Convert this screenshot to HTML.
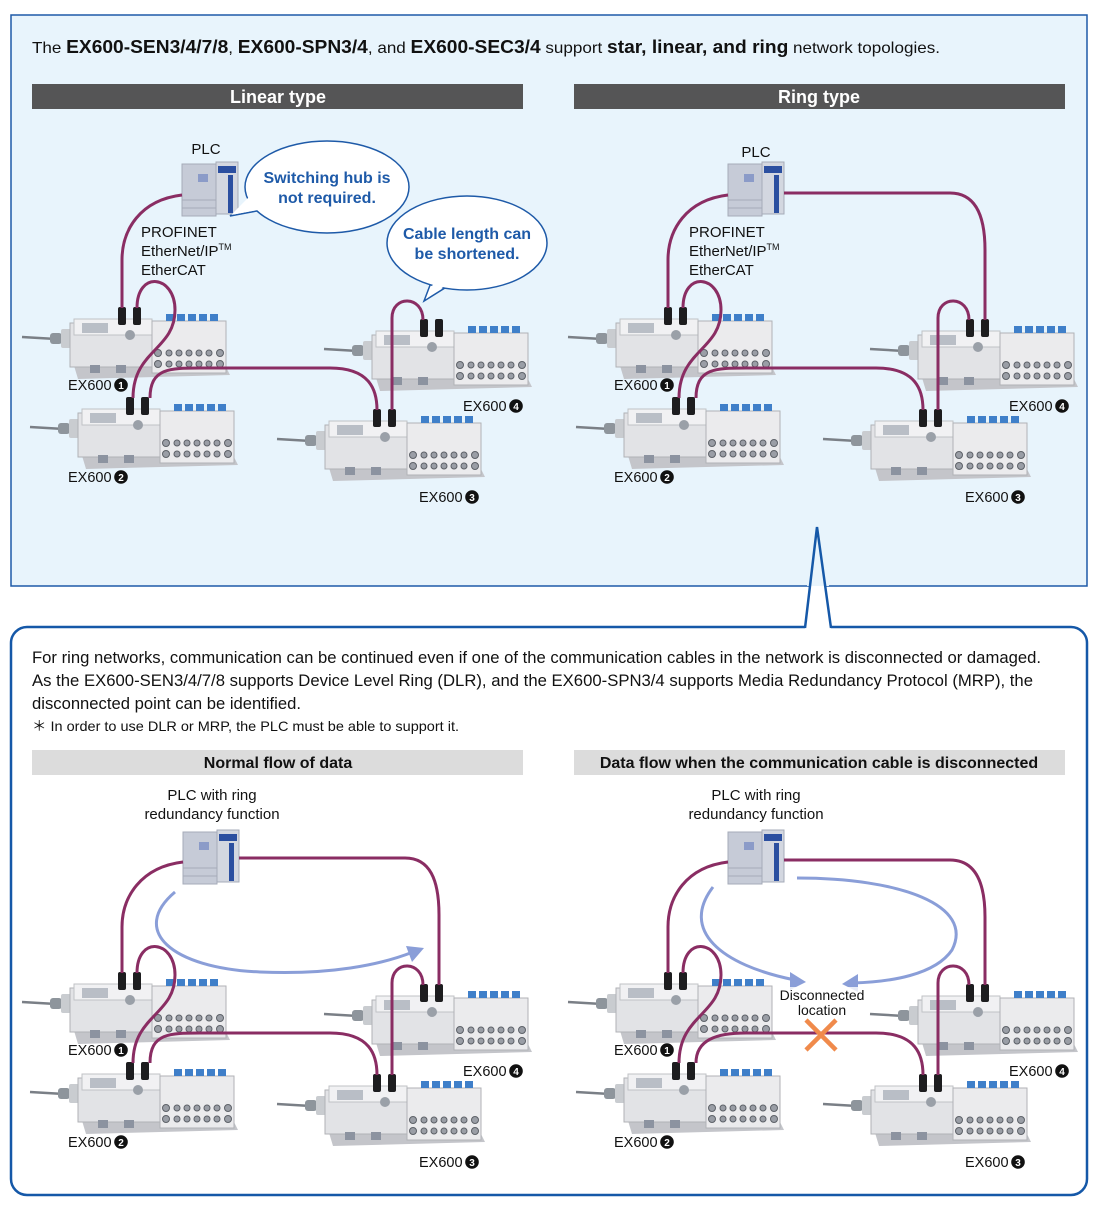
<!DOCTYPE html>
<html><head><meta charset="utf-8"><style>
html,body{margin:0;padding:0;background:#fff;}
svg{display:block;font-family:"Liberation Sans",Arial,sans-serif;}
</style></head><body>
<svg width="1100" height="1219" viewBox="0 0 1100 1219" xmlns="http://www.w3.org/2000/svg">
<defs>
<g id="dev">
  <path d="M-48,22 L-14,24" stroke="#7a7f86" stroke-width="2.5" fill="none"/>
  <rect x="-20" y="18" width="12" height="11" rx="3" fill="#8e959c"/>
  <rect x="-9" y="14" width="10" height="19" rx="2" fill="#c9ccd0"/>
  <polygon points="2,44 152,44 160,60 8,64" fill="#c4c5ca"/>
  <rect x="0" y="8" width="82" height="44" fill="#e2e3e6" stroke="#b0b2b6"/>
  <rect x="4" y="4" width="78" height="16" fill="#f1f1f3" stroke="#c0c2c6"/>
  <rect x="12" y="8" width="26" height="10" fill="#b9bec6"/>
  <rect x="20" y="50" width="10" height="8" fill="#8c93a0"/>
  <rect x="46" y="50" width="10" height="8" fill="#8c93a0"/>
  <rect x="82" y="6" width="74" height="52" fill="#ebebed" stroke="#b0b2b6"/>
  <g fill="#3f7fc9"><rect x="96" y="-1" width="8" height="7"/><rect x="107" y="-1" width="8" height="7"/><rect x="118" y="-1" width="8" height="7"/><rect x="129" y="-1" width="8" height="7"/><rect x="140" y="-1" width="8" height="7"/></g>
  <g fill="#9a9ea6" stroke="#5d6168" stroke-width="1">
   <circle cx="88" cy="38" r="3.5"/><circle cx="99" cy="38" r="3"/><circle cx="109" cy="38" r="3"/><circle cx="119" cy="38" r="3"/><circle cx="129" cy="38" r="3"/><circle cx="139" cy="38" r="3"/><circle cx="150" cy="38" r="3.5"/>
   <circle cx="88" cy="49" r="3.5"/><circle cx="99" cy="49" r="3"/><circle cx="109" cy="49" r="3"/><circle cx="119" cy="49" r="3"/><circle cx="129" cy="49" r="3"/><circle cx="139" cy="49" r="3"/><circle cx="150" cy="49" r="3.5"/>
  </g>
  <rect x="48" y="-8" width="8" height="18" rx="2" fill="#1d1d1f"/>
  <rect x="63" y="-8" width="8" height="18" rx="2" fill="#1d1d1f"/>
  <circle cx="60" cy="20" r="5" fill="#9aa0a8"/>
</g>
<g id="plc">
  <rect x="0" y="2" width="34" height="52" fill="#c6cbd7" stroke="#a6abb8"/>
  <rect x="34" y="0" width="22" height="52" fill="#d3d7e0" stroke="#a6abb8"/>
  <rect x="36" y="4" width="18" height="7" fill="#2b4fa0"/>
  <rect x="46" y="13" width="5" height="38" fill="#2b4fa0"/>
  <rect x="16" y="12" width="10" height="8" fill="#8b9bc8"/>
  <line x1="0" y1="38" x2="34" y2="38" stroke="#a6abb8"/>
  <line x1="0" y1="46" x2="34" y2="46" stroke="#a6abb8"/>
</g>
</defs>

<!-- top panel -->
<rect x="11" y="15" width="1076" height="571" fill="#e8f4fc" stroke="#1e5aa8" stroke-width="1.5"/>
<text x="32" y="53" font-size="16" fill="#111" textLength="908" lengthAdjust="spacingAndGlyphs">The <tspan font-weight="bold" font-size="18">EX600-SEN3/4/7/8</tspan>, <tspan font-weight="bold" font-size="18">EX600-SPN3/4</tspan>, and <tspan font-weight="bold" font-size="18">EX600-SEC3/4</tspan> support <tspan font-weight="bold" font-size="18">star, linear, and ring</tspan> network topologies.</text>
<rect x="32" y="84" width="491" height="25" fill="#555556"/>
<rect x="574" y="84" width="491" height="25" fill="#555556"/>
<text x="278" y="103" font-size="18" font-weight="bold" fill="#fff" text-anchor="middle">Linear type</text>
<text x="819" y="103" font-size="18" font-weight="bold" fill="#fff" text-anchor="middle">Ring type</text>

<!-- bottom panel -->
<rect x="11" y="627" width="1076" height="568" rx="16" fill="#fff" stroke="#1558a8" stroke-width="2.5"/>
<polygon points="805,629 817,527 831,629" fill="#fff"/>
<polygon points="807,586 817,527 829,586" fill="#e8f4fc"/>
<polyline points="805,628 817,527 831,628" fill="none" stroke="#1558a8" stroke-width="2.5"/>

<text x="32" y="663" font-size="16.6" fill="#111" textLength="1009" lengthAdjust="spacingAndGlyphs">For ring networks, communication can be continued even if one of the communication cables in the network is disconnected or damaged.</text>
<text x="32" y="686" font-size="16.6" fill="#111" textLength="1001" lengthAdjust="spacingAndGlyphs">As the EX600-SEN3/4/7/8 supports Device Level Ring (DLR), and the EX600-SPN3/4 supports Media Redundancy Protocol (MRP), the</text>
<text x="32" y="709" font-size="16.6" fill="#111" textLength="269" lengthAdjust="spacingAndGlyphs">disconnected point can be identified.</text>
<text x="32" y="731" font-size="14" fill="#111" textLength="427" lengthAdjust="spacingAndGlyphs">＊ In order to use DLR or MRP, the PLC must be able to support it.</text>
<rect x="32" y="750" width="491" height="25" fill="#dcdcdc"/>
<rect x="574" y="750" width="491" height="25" fill="#dcdcdc"/>
<text x="278" y="768" font-size="16" font-weight="bold" fill="#111" text-anchor="middle">Normal flow of data</text>
<text x="819" y="768" font-size="16" font-weight="bold" fill="#111" text-anchor="middle">Data flow when the communication cable is disconnected</text>

<!-- ====== LINEAR ====== -->
<text x="206" y="154" font-size="15" text-anchor="middle" fill="#111">PLC</text>
<use href="#plc" x="182" y="162"/>
<text font-size="15" fill="#111"><tspan x="141" y="237">PROFINET</tspan><tspan x="141" y="256">EtherNet/IP<tspan font-size="9" dy="-6">TM</tspan></tspan><tspan x="141" y="275">EtherCAT</tspan></text>
<use href="#dev" x="70" y="315"/>
<use href="#dev" x="78" y="405"/>
<use href="#dev" x="325" y="417"/>
<use href="#dev" x="372" y="327"/>
<g fill="none" stroke="#8a2d63" stroke-width="3">
 <path d="M182,195 C140,200 122,230 122,260 L122,308"/>
 <path d="M137,308 C137,270 175,275 175,310 C175,350 133,350 133,398"/>
 <path d="M150,398 C150,368 170,368 200,368 L330,368 C370,368 377,390 377,410"/>
 <path d="M392,410 L392,318 C392,295 423,295 423,320"/>
</g>
<!-- bubbles -->
<path d="M262,210 L230,216 L252,200 Z" fill="#fff" stroke="#1e5aa8" stroke-width="1.5"/>
<ellipse cx="327" cy="187" rx="82" ry="46" fill="#fff" stroke="#1e5aa8" stroke-width="1.5"/>
<path d="M258,210 L231,215 L250,196" fill="#fff" stroke="none"/>
<text x="327" y="183" font-size="16" font-weight="bold" fill="#1e5aa8" text-anchor="middle">Switching hub is</text>
<text x="327" y="203" font-size="16" font-weight="bold" fill="#1e5aa8" text-anchor="middle">not required.</text>
<path d="M432,280 L424,301 L448,286 Z" fill="#fff" stroke="#1e5aa8" stroke-width="1.5"/>
<ellipse cx="467" cy="243" rx="80" ry="47" fill="#fff" stroke="#1e5aa8" stroke-width="1.5"/>
<path d="M434,282 L426,299 L446,285 Z" fill="#fff"/>
<text x="467" y="239" font-size="16" font-weight="bold" fill="#1e5aa8" text-anchor="middle">Cable length can</text>
<text x="467" y="259" font-size="16" font-weight="bold" fill="#1e5aa8" text-anchor="middle">be shortened.</text>

<!-- ====== RING ====== -->
<text x="756" y="157" font-size="15" text-anchor="middle" fill="#111">PLC</text>
<use href="#plc" x="728" y="162"/>
<text font-size="15" fill="#111"><tspan x="689" y="237">PROFINET</tspan><tspan x="689" y="256">EtherNet/IP<tspan font-size="9" dy="-6">TM</tspan></tspan><tspan x="689" y="275">EtherCAT</tspan></text>
<use href="#dev" x="616" y="315"/>
<use href="#dev" x="624" y="405"/>
<use href="#dev" x="871" y="417"/>
<use href="#dev" x="918" y="327"/>
<g fill="none" stroke="#8a2d63" stroke-width="3">
 <path d="M728,195 C686,200 668,230 668,260 L668,308"/>
 <path d="M683,308 C683,270 721,275 721,310 C721,350 679,350 679,398"/>
 <path d="M696,398 C696,368 716,368 746,368 L876,368 C916,368 923,390 923,410"/>
 <path d="M938,410 L938,318 C938,295 969,295 969,320"/>
 <path d="M784,193 L950,193 C975,193 985,215 985,250 L985,320"/>
</g>

<!-- ====== NORMAL FLOW ====== -->
<text x="212" y="800" font-size="15" text-anchor="middle" fill="#111">PLC with ring</text>
<text x="212" y="819" font-size="15" text-anchor="middle" fill="#111">redundancy function</text>
<use href="#plc" x="183" y="830"/>
<use href="#dev" x="70" y="980"/>
<use href="#dev" x="78" y="1070"/>
<use href="#dev" x="325" y="1082"/>
<use href="#dev" x="372" y="992"/>
<g fill="none" stroke="#8a2d63" stroke-width="3">
 <path d="M183,862 C141,867 122,897 122,927 L122,973"/>
 <path d="M137,973 C137,935 175,940 175,975 C175,1015 133,1015 133,1063"/>
 <path d="M150,1063 C150,1033 170,1033 200,1033 L330,1033 C370,1033 377,1055 377,1075"/>
 <path d="M392,1075 L392,983 C392,960 423,960 423,985"/>
 <path d="M239,858 L405,858 C430,858 439,880 439,915 L439,985"/>
</g>
<path d="M175,892 C130,930 170,968 260,972 C330,975 380,965 413,952" fill="none" stroke="#8a9ed8" stroke-width="3"/>
<polygon points="424,948 406,946 412,962" fill="#8a9ed8"/>

<!-- ====== DISCONNECTED ====== -->
<text x="756" y="800" font-size="15" text-anchor="middle" fill="#111">PLC with ring</text>
<text x="756" y="819" font-size="15" text-anchor="middle" fill="#111">redundancy function</text>
<use href="#plc" x="728" y="830"/>
<use href="#dev" x="616" y="980"/>
<use href="#dev" x="624" y="1070"/>
<use href="#dev" x="871" y="1082"/>
<use href="#dev" x="918" y="992"/>
<g fill="none" stroke="#8a2d63" stroke-width="3">
 <path d="M728,862 C686,867 668,897 668,927 L668,973"/>
 <path d="M683,973 C683,935 721,940 721,975 C721,1015 679,1015 679,1063"/>
 <path d="M696,1063 C696,1040 716,1033 746,1033 L876,1033 C916,1033 923,1055 923,1075"/>
 <path d="M938,1075 L938,983 C938,960 969,960 969,985"/>
 <path d="M784,860 L950,860 C975,860 985,882 985,917 L985,985"/>
</g>
<path d="M713,887 C680,930 720,965 795,980" fill="none" stroke="#8a9ed8" stroke-width="3"/>
<polygon points="806,982 790,972 790,990" fill="#8a9ed8"/>
<path d="M797,878 C900,878 975,905 952,950 C935,975 890,982 853,983" fill="none" stroke="#8a9ed8" stroke-width="3"/>
<polygon points="842,984 858,974 858,992" fill="#8a9ed8"/>
<rect x="776" y="987" width="92" height="30" fill="#fff" opacity="0.8"/>
<text x="822" y="1000" font-size="14" text-anchor="middle" fill="#111">Disconnected</text>
<text x="822" y="1015" font-size="14" text-anchor="middle" fill="#111">location</text>
<g stroke="#f08a4b" stroke-width="4.5"><line x1="806" y1="1020" x2="836" y2="1050"/><line x1="836" y1="1020" x2="806" y2="1050"/></g>

<!-- EX600 labels -->
<g font-size="14.5" fill="#111">
<text x="68" y="390">EX600</text><text x="68" y="482">EX600</text><text x="419" y="502">EX600</text><text x="463" y="411">EX600</text>
<text x="614" y="390">EX600</text><text x="614" y="482">EX600</text><text x="965" y="502">EX600</text><text x="1009" y="411">EX600</text>
<text x="68" y="1055">EX600</text><text x="68" y="1147">EX600</text><text x="419" y="1167">EX600</text><text x="463" y="1076">EX600</text>
<text x="614" y="1055">EX600</text><text x="614" y="1147">EX600</text><text x="965" y="1167">EX600</text><text x="1009" y="1076">EX600</text>
</g>
<g fill="#111">
<circle cx="121" cy="385" r="6.8"/><circle cx="121" cy="477" r="6.8"/><circle cx="472" cy="497" r="6.8"/><circle cx="516" cy="406" r="6.8"/>
<circle cx="667" cy="385" r="6.8"/><circle cx="667" cy="477" r="6.8"/><circle cx="1018" cy="497" r="6.8"/><circle cx="1062" cy="406" r="6.8"/>
<circle cx="121" cy="1050" r="6.8"/><circle cx="121" cy="1142" r="6.8"/><circle cx="472" cy="1162" r="6.8"/><circle cx="516" cy="1071" r="6.8"/>
<circle cx="667" cy="1050" r="6.8"/><circle cx="667" cy="1142" r="6.8"/><circle cx="1018" cy="1162" r="6.8"/><circle cx="1062" cy="1071" r="6.8"/>
</g>
<g fill="#fff" font-size="10" font-weight="bold" text-anchor="middle">
<text x="121" y="389">1</text><text x="121" y="481">2</text><text x="472" y="501">3</text><text x="516" y="410">4</text>
<text x="667" y="389">1</text><text x="667" y="481">2</text><text x="1018" y="501">3</text><text x="1062" y="410">4</text>
<text x="121" y="1054">1</text><text x="121" y="1146">2</text><text x="472" y="1166">3</text><text x="516" y="1075">4</text>
<text x="667" y="1054">1</text><text x="667" y="1146">2</text><text x="1018" y="1166">3</text><text x="1062" y="1075">4</text>
</g>
</svg>
</body></html>
